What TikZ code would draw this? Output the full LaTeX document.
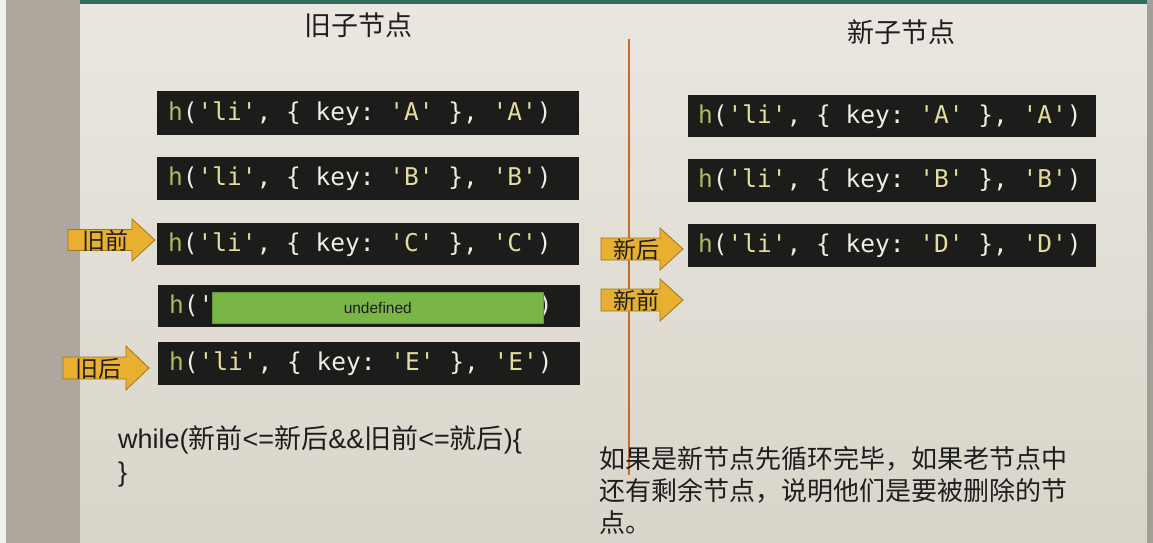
\documentclass[tikz,border=0pt]{standalone}
\usepackage{fontspec}
\setmainfont{Liberation Sans}
\newfontfamily\cjk{Noto Sans CJK SC}
\newfontfamily\codef{DejaVu Sans Mono}
\newfontfamily\arial{Liberation Sans}
\definecolor{slidetop}{HTML}{E9E7E0}
\definecolor{slidebot}{HTML}{DAD5CA}
\definecolor{leftgray}{HTML}{ADA79E}
\definecolor{edgewhite}{HTML}{EEF0F2}
\definecolor{topgreen}{HTML}{2F6B58}
\definecolor{boxc}{HTML}{1C1C1A}
\definecolor{fnc}{HTML}{A2BF63}
\definecolor{strc}{HTML}{E4DC9E}
\definecolor{plainc}{HTML}{EEEEE8}
\definecolor{ptrfill}{HTML}{E8AF30}
\definecolor{ptrline}{HTML}{A07718}
\definecolor{divc}{HTML}{C46C2E}
\definecolor{undefc}{HTML}{7AB548}
\definecolor{undefline}{HTML}{5F9C3C}
\definecolor{ink}{HTML}{1E1E1E}
\newcommand\qq{\textquotesingle}
\newcommand\spc{\hbox to \fontcharwd\font`x{}}
\newcommand\hcall[2]{{\color{fnc}h}({\color{strc}\qq li\qq},\spc\{\spc key:\spc{\color{strc}\qq #1\qq}\spc\},\spc{\color{strc}\qq #2\qq})}
\newcommand\ptrshape[6]{%
  \draw[ptrsty] (#1,#4-#5) -- (#2,#4-#5) -- (#2,#4-#6) -- (#3,#4) -- (#2,#4+#6) -- (#2,#4+#5) -- (#1,#4+#5) -- cycle;}
\tikzset{
  codebox/.style={fill=boxc, draw=none, anchor=north west, inner xsep=11pt, inner ysep=0pt,
    align=left, text=plainc, font={\codef\fontsize{24.5}{29}\selectfont}},
  ptrsty/.style={fill=ptrfill, draw=ptrline, line width=0.8pt, line join=miter},
  ptrtext/.style={font={\cjk\fontsize{23}{26}\selectfont}, text=ink, inner sep=0pt},
  titlesty/.style={font={\cjk\fontsize{27}{30}\selectfont}, text=ink, inner sep=0pt},
  divsty/.style={draw=divc, line width=1.8pt},
  undefsty/.style={fill=undefc, draw=undefline, line width=0.6pt, anchor=north west, inner sep=0pt,
    font={\arial\fontsize{15.5}{18}\selectfont}, text=ink},
}
\begin{document}
\begin{tikzpicture}[x=1pt,y=-1pt]
\useasboundingbox (0,0) rectangle (1153,543);
% photo background
\fill[edgewhite] (0,0) rectangle (6,543);
\fill[leftgray] (6,0) rectangle (80,543);
\shade[top color=slidetop, bottom color=slidebot] (80,0) rectangle (1147,543);
\fill[leftgray!95!black] (1147,0) rectangle (1153,543);
\fill[topgreen] (80,0) rectangle (1147,4);
% titles
\node[titlesty] (oldtitle) at (358,25) {旧子节点};
\node[titlesty] (newtitle) at (901,32) {新子节点};
% divider
\coordinate (divtop) at (629,39);
\coordinate (divbot) at (629,475);
\draw[divsty] (divtop) -- (divbot);
% old children
\node[codebox, text width=400pt, minimum height=44pt] (oa) at (157,91) {\hcall{A}{A}};
\node[codebox, text width=400pt, minimum height=43pt] (ob) at (157,157) {\hcall{B}{B}};
\node[codebox, text width=400pt, minimum height=42pt] (oc) at (157,223) {\hcall{C}{C}};
\node[codebox, text width=400pt, minimum height=42pt] (ou) at (158,285) {{\color{fnc}h}(\qq\phantom{xxxxxxxxxxxxxxxxxxxxxx})};
\node[undefsty, minimum width=331pt, minimum height=31pt] (undef) at (212,292) {undefined};
\node[codebox, text width=400pt, minimum height=43pt] (oe) at (158,342) {\hcall{E}{E}};
% new children
\node[codebox, inner xsep=10pt, text width=388pt, minimum height=42pt] (na) at (688,95) {\hcall{A}{A}};
\node[codebox, inner xsep=10pt, text width=388pt, minimum height=43pt] (nb) at (688,159) {\hcall{B}{B}};
\node[codebox, inner xsep=10pt, text width=388pt, minimum height=43pt] (nd) at (688,224) {\hcall{D}{D}};
% pointers
\ptrshape{68}{132}{155}{240}{10.5}{21}
\node[ptrtext] (oldstart) at (105,241) {旧前};
\ptrshape{63}{126}{149}{368}{11}{22}
\node[ptrtext] (oldend) at (98,369) {旧后};
\ptrshape{601}{660}{683}{249}{11}{21}
\node[ptrtext] (newend) at (636,250) {新后};
\ptrshape{601}{660}{683}{300}{11}{21}
\node[ptrtext] (newstart) at (636,301) {新前};
% loop text
\node[anchor=base west, inner sep=0pt, text=ink, font={\arial\fontsize{27}{30}\selectfont}] (loop) at (118,448)
  {while({\cjk 新前}<={\cjk 新后}\&\&{\cjk 旧前}<={\cjk 就后})\{};
\node[anchor=base west, inner sep=0pt, text=ink, font={\arial\fontsize{27}{30}\selectfont}] (loopend) at (118,481) {\}};
% note
\node[anchor=base west, inner sep=0pt, align=left, text=ink, font={\cjk\fontsize{26}{32}\selectfont}] (note) at (599,532)
  {如果是新节点先循环完毕，如果老节点中\\还有剩余节点，说明他们是要被删除的节\\点。};
\end{tikzpicture}
\end{document}
